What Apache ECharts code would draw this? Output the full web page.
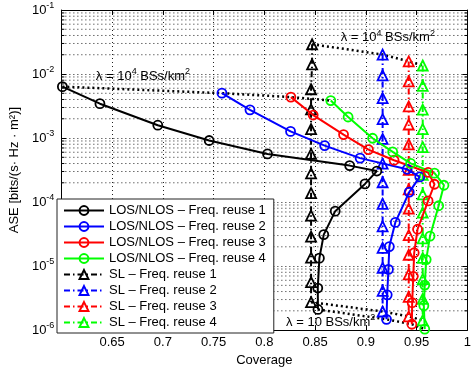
<!DOCTYPE html>
<html>
<head>
<meta charset="utf-8">
<script src="https://cdn.jsdelivr.net/npm/echarts@6/dist/echarts.min.js"></script>
<style>
html,body{margin:0;padding:0;background:#fff;}
#c{width:474px;height:372px;}
</style>
</head>
<body>
<div id="c"></div>
<script>
// ---------- data ----------
const seriesColors = ['#000000', '#0000ff', '#ff0000', '#00ff00'];
const losNames = ['LOS/NLOS – Freq. reuse 1', 'LOS/NLOS – Freq. reuse 2', 'LOS/NLOS – Freq. reuse 3', 'LOS/NLOS – Freq. reuse 4'];
const slNames = ['SL – Freq. reuse 1', 'SL – Freq. reuse 2', 'SL – Freq. reuse 3', 'SL – Freq. reuse 4'];

// LOS/NLOS curves (coverage, ASE)
const los1Coverage = [0.601, 0.638, 0.695, 0.7456, 0.8031, 0.884, 0.9108, 0.8991, 0.8698, 0.8585, 0.8542, 0.8526, 0.8528];
const los1ASE = [6.35e-3, 3.44e-3, 1.586e-3, 9.16e-4, 5.65e-4, 3.71e-4, 3.05e-4, 1.92e-4, 7.21e-5, 3.10e-5, 1.33e-5, 4.54e-6, 2.10e-6];
const los2Coverage = [0.7582, 0.7858, 0.8258, 0.8594, 0.8943, 0.9406, 0.9531, 0.9427, 0.929, 0.9231, 0.9222, 0.921, 0.9203];
const los2ASE = [5.02e-3, 2.757e-3, 1.27e-3, 7.62e-4, 4.86e-4, 3.25e-4, 2.47e-4, 1.432e-4, 4.81e-5, 2.015e-5, 8.87e-6, 3.55e-6, 1.473e-6];
const los3Coverage = [0.8261, 0.8481, 0.878, 0.9025, 0.9278, 0.9613, 0.9676, 0.9613, 0.9509, 0.9476, 0.9467, 0.9456, 0.9453];
const los3ASE = [4.36e-3, 2.287e-3, 1.131e-3, 6.58e-4, 4.50e-4, 2.90e-4, 1.898e-4, 1.043e-4, 3.76e-5, 1.614e-5, 6.93e-6, 2.68e-6, 1.235e-6];
const los4Coverage = [0.8654, 0.8825, 0.9066, 0.9264, 0.9441, 0.9676, 0.9769, 0.9717, 0.9632, 0.9594, 0.958, 0.9571, 0.958];
const los4ASE = [3.85e-3, 2.132e-3, 9.93e-4, 6.07e-4, 4.02e-4, 2.83e-4, 1.832e-4, 8.75e-5, 2.94e-5, 1.262e-5, 5.05e-6, 2.41e-6, 1.036e-6];

// SL curves (coverage, ASE)
const sl1Coverage = [0.847, 0.847, 0.846, 0.846, 0.846, 0.846, 0.846, 0.846, 0.846, 0.846, 0.846, 0.846, 0.846];
const sl1ASE = [2.92e-2, 1.417e-2, 5.78e-3, 2.81e-3, 1.378e-3, 5.65e-4, 2.80e-4, 1.38e-4, 6.15e-5, 2.88e-5, 1.353e-5, 5.61e-6, 2.73e-6];
const sl2Coverage = [0.9165, 0.9165, 0.9165, 0.9165, 0.9165, 0.9165, 0.9165, 0.9165, 0.9165, 0.9165, 0.9165, 0.9165, 0.9165];
const sl2ASE = [2.015e-2, 9.55e-3, 4.21e-3, 1.973e-3, 9.69e-4, 3.98e-4, 2.04e-4, 9.39e-5, 4.18e-5, 1.925e-5, 9.42e-6, 4.09e-6, 1.953e-6];
const sl3Coverage = [0.9422, 0.9422, 0.9422, 0.9422, 0.9422, 0.9422, 0.9422, 0.9422, 0.9422, 0.9422, 0.9422, 0.9422, 0.9422];
const sl3ASE = [1.575e-2, 7.65e-3, 3.12e-3, 1.626e-3, 7.95e-4, 3.18e-4, 1.575e-4, 7.87e-5, 3.04e-5, 1.504e-5, 7.44e-6, 3.31e-6, 1.637e-6];
const sl4Coverage = [0.956, 0.956, 0.956, 0.956, 0.956, 0.956, 0.956, 0.956, 0.956, 0.956, 0.956, 0.956, 0.956];
const sl4ASE = [1.358e-2, 6.53e-3, 2.786e-3, 1.378e-3, 7.23e-4, 2.67e-4, 1.32e-4, 6.84e-5, 2.71e-5, 1.339e-5, 6.24e-6, 3.09e-6, 1.422e-6];

// annotations: [coverage, ASE] anchor (left edge, vertical middle) and text
const annoHighLos = [0.634, 9.29e-3];
const annoHighSl = [0.8752, 3.665e-2];
const annoLow = [0.8214, 1.325e-6];
const annoHighText = '{t|λ = 10}{s|4}{t| BSs/km}{s|2}';
const annoLowText = '{t|λ = 10 BSs/km}{s|2}';

// axes
const xMin = 0.6, xMax = 1.0, xStep = 0.05;
const yMin = 1e-6, yMax = 1e-1;

// ---------- build ----------
const FONT = '"Liberation Sans", Arial, Helvetica, sans-serif';
const losCov = [los1Coverage, los2Coverage, los3Coverage, los4Coverage];
const losAse = [los1ASE, los2ASE, los3ASE, los4ASE];
const slCov = [sl1Coverage, sl2Coverage, sl3Coverage, sl4Coverage];
const slAse = [sl1ASE, sl2ASE, sl3ASE, sl4ASE];
const pairs = (xs, ys) => xs.map((x, i) => [x, ys[i]]);

// minor log ticks (2..9 of each decade)
const minorVals = [];
for (let e = Math.round(Math.log10(yMin)); e < Math.round(Math.log10(yMax)); e++) {
  for (let m = 2; m <= 9; m++) minorVals.push(m * Math.pow(10, e));
}

const richSup = {
  t: {fontSize: 13, fontFamily: FONT, color: '#000', lineHeight: 18},
  s: {fontSize: 9, fontFamily: FONT, color: '#000', verticalAlign: 'top', lineHeight: 10}
};

const series = [];
// minor grid + minor ticks
series.push({
  type: 'custom', silent: true, z: 1, animation: false,
  data: minorVals.map(v => [xMin, v]),
  encode: {x: 0, y: 1},
  renderItem: function (params, api) {
    const y = api.coord([xMin, api.value(1)])[1];
    const cs = params.coordSys;
    const x0 = cs.x, x1 = cs.x + cs.width;
    return {type: 'group', children: [
      {type: 'line', shape: {x1: x0, y1: y, x2: x1, y2: y}, style: {stroke: '#222', lineWidth: 1, lineDash: [1, 3]}},
      {type: 'line', shape: {x1: x0, y1: y, x2: x0 + 3, y2: y}, style: {stroke: '#000', lineWidth: 1}},
      {type: 'line', shape: {x1: x1 - 3, y1: y, x2: x1, y2: y}, style: {stroke: '#000', lineWidth: 1}}
    ]};
  }
});

// dotted connectors (lambda = 1e4 and lambda = 10 ends)
const connector = (pts, extra) => Object.assign({
  type: 'line', data: pts, symbol: 'none', silent: true, z: 2, animation: false,
  lineStyle: {color: '#000', width: 2.5, type: [2, 3]}
}, extra || {});
series.push(connector([0, 1, 2, 3].map(i => [losCov[i][0], losAse[i][0]]), {
  markPoint: {
    silent: true, symbolSize: 0, animation: false,
    label: {show: true, position: 'right', distance: 0, rich: richSup},
    data: [
      {coord: annoHighLos, label: {formatter: annoHighText}},
      {coord: annoHighSl, label: {formatter: annoHighText}},
      {coord: annoLow, label: {formatter: annoLowText}}
    ]
  }
}));
series.push(connector([0, 1, 2, 3].map(i => [slCov[i][0], slAse[i][0]])));
series.push(connector([0, 1, 2, 3].map(i => [losCov[i][losCov[i].length - 1], losAse[i][losAse[i].length - 1]])));
series.push(connector([0, 1, 2, 3].map(i => [slCov[i][slCov[i].length - 1], slAse[i][slAse[i].length - 1]])));

for (let i = 0; i < 4; i++) {
  series.push({
    name: slNames[i], type: 'line', data: pairs(slCov[i], slAse[i]),
    symbol: 'triangle', symbolSize: 10, z: 3, animation: false,
    lineStyle: {color: seriesColors[i], width: 2, type: [6, 3, 1.5, 3]},
    itemStyle: {color: 'rgba(255,255,255,0)', borderColor: seriesColors[i], borderWidth: 1.8},
    emphasis: {disabled: true}
  });
}
for (let i = 0; i < 4; i++) {
  series.push({
    name: losNames[i], type: 'line', data: pairs(losCov[i], losAse[i]),
    symbol: 'circle', symbolSize: 9, z: 4, animation: false,
    lineStyle: {color: seriesColors[i], width: 2},
    itemStyle: {color: 'rgba(255,255,255,0)', borderColor: seriesColors[i], borderWidth: 1.8},
    emphasis: {disabled: true}
  });
}

const gridLine = {show: true, lineStyle: {color: '#222', width: 1, type: [1, 3]}};

const option = {
  animation: false,
  backgroundColor: '#fff',
  textStyle: {fontFamily: FONT},
  grid: {left: 49, top: 10, right: 1, bottom: 35, containLabel: false},
  legend: {
    data: losNames.concat(slNames),
    orient: 'vertical', left: 57, top: 199,
    backgroundColor: '#fff', borderColor: '#222', borderWidth: 1,
    padding: [5, 8, 4, 6], itemGap: 3, itemWidth: 40, itemHeight: 11,
    textStyle: {fontSize: 13, color: '#000', fontFamily: FONT},
    selectedMode: false
  },
  xAxis: [{
    type: 'value', min: xMin, max: xMax, interval: xStep,
    name: 'Coverage', nameLocation: 'middle', nameGap: 20,
    nameTextStyle: {fontSize: 13, color: '#000', fontFamily: FONT},
    axisLine: {show: true, lineStyle: {color: '#000', width: 1}},
    axisTick: {show: true, inside: true, length: 5, lineStyle: {color: '#000'}},
    axisLabel: {fontSize: 13, color: '#000', margin: 6, fontFamily: FONT,
      formatter: v => (Math.abs(v - xMin) < 1e-9 ? '' : String(+v.toFixed(2)))},
    splitLine: gridLine
  }, {
    type: 'value', position: 'top', min: xMin, max: xMax, interval: xStep,
    axisLine: {show: true, lineStyle: {color: '#000', width: 1}},
    axisTick: {show: true, inside: true, length: 5, lineStyle: {color: '#000'}},
    axisLabel: {show: false}, splitLine: {show: false}
  }],
  yAxis: [{
    type: 'log', logBase: 10, min: yMin, max: yMax,
    name: 'ASE [bits/(s· Hz · m²)]', nameLocation: 'middle', nameGap: 33, nameRotate: 90,
    nameTextStyle: {fontSize: 13, color: '#000', fontFamily: FONT},
    axisLine: {show: true, lineStyle: {color: '#000', width: 1}},
    axisTick: {show: true, inside: true, length: 5, lineStyle: {color: '#000'}},
    axisLabel: {margin: 7, fontFamily: FONT,
      formatter: v => '{b|10}{s|' + Math.round(Math.log10(v)) + '}',
      rich: {
        b: {fontSize: 13, fontFamily: FONT, color: '#000', lineHeight: 18},
        s: {fontSize: 9, fontFamily: FONT, color: '#000', verticalAlign: 'top', lineHeight: 10}
      }},
    splitLine: gridLine
  }, {
    type: 'log', logBase: 10, min: yMin, max: yMax, position: 'right',
    axisLine: {show: true, lineStyle: {color: '#000', width: 1}},
    axisTick: {show: true, inside: true, length: 5, lineStyle: {color: '#000'}},
    axisLabel: {show: false}, splitLine: {show: false}
  }],
  series: series
};

const chart = echarts.init(document.getElementById('c'));
chart.setOption(option);
</script>
</body>
</html>
